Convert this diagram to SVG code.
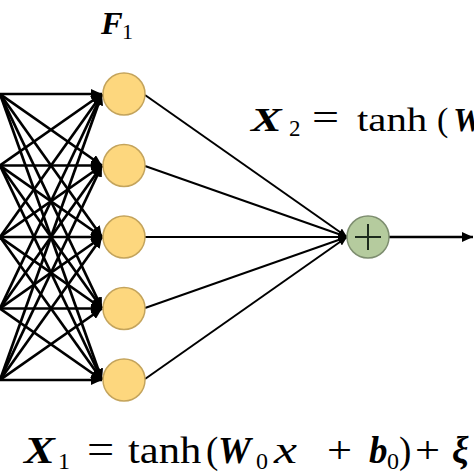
<svg xmlns="http://www.w3.org/2000/svg" width="474" height="474" viewBox="0 0 474 474">
<defs>
<marker id="ah" markerUnits="userSpaceOnUse" markerWidth="12" markerHeight="10" refX="11" refY="5" orient="auto"><path d="M0,0 L11,5 L0,10 z" fill="#000"/></marker>
<marker id="ahs" markerUnits="userSpaceOnUse" markerWidth="9" markerHeight="8" refX="9" refY="4" orient="auto"><path d="M0,0 L9,4 L0,8 z" fill="#000"/></marker>
<style>
.in{stroke:#000;stroke-width:2.7;fill:none;marker-end:url(#ah)}
.hid{stroke:#000;stroke-width:2;fill:none;marker-end:url(#ahs)}
.neuron{fill:#FDD77E;stroke:#C4A45C;stroke-width:1.5}
.sum{fill:#B5CB9E;stroke:#7E8E70;stroke-width:1.5}
.t{font-family:"Liberation Serif","DejaVu Serif",serif;fill:#000}
.bi{font-weight:bold;font-style:italic}
.it{font-style:italic}
</style>
</defs>
<rect width="474" height="474" fill="#fff"/>
<g id="connectors">
<path class="in" d="M0,94 L102,94"/><path class="in" d="M0,94 L102,165.5"/><path class="in" d="M0,94 L102,237"/><path class="in" d="M0,94 L102,308.5"/><path class="in" d="M0,94 L102,380"/>
<path class="in" d="M0,165.5 L102,94"/><path class="in" d="M0,165.5 L102,165.5"/><path class="in" d="M0,165.5 L102,237"/><path class="in" d="M0,165.5 L102,308.5"/><path class="in" d="M0,165.5 L102,380"/>
<path class="in" d="M0,237 L102,94"/><path class="in" d="M0,237 L102,165.5"/><path class="in" d="M0,237 L102,237"/><path class="in" d="M0,237 L102,308.5"/><path class="in" d="M0,237 L102,380"/>
<path class="in" d="M0,308.5 L102,94"/><path class="in" d="M0,308.5 L102,165.5"/><path class="in" d="M0,308.5 L102,237"/><path class="in" d="M0,308.5 L102,308.5"/><path class="in" d="M0,308.5 L102,380"/>
<path class="in" d="M0,380 L102,94"/><path class="in" d="M0,380 L102,165.5"/><path class="in" d="M0,380 L102,237"/><path class="in" d="M0,380 L102,308.5"/><path class="in" d="M0,380 L102,380"/>
<path class="hid" d="M145,95 L347,237"/>
<path class="hid" d="M145,166 L347,237"/>
<path class="hid" d="M145,237 L347,237"/>
<path class="hid" d="M145,308 L347,237"/>
<path class="hid" d="M145,379 L347,237"/>
<path class="in" d="M389,237 L473,237"/>
</g>
<g id="n1"><circle class="neuron" cx="124" cy="94" r="21"/></g>
<g id="n2"><circle class="neuron" cx="124" cy="165.5" r="21"/></g>
<g id="n3"><circle class="neuron" cx="124" cy="237" r="21"/></g>
<g id="n4"><circle class="neuron" cx="124" cy="308.5" r="21"/></g>
<g id="n5"><circle class="neuron" cx="124" cy="380" r="21"/></g>
<g id="sum"><circle class="sum" cx="368" cy="237" r="21"/><path d="M355,237 H381 M368,224 V250" stroke="#1c2a1c" stroke-width="2"/></g>
<g id="label-F1">
<text class="t bi" transform="translate(101,34) scale(1.05,1)" font-size="31">F</text>
<text class="t" x="122" y="39" font-size="22">1</text>
</g>
<g id="label-X2">
<text class="t bi" transform="translate(251,131) scale(1.35,1)" font-size="34">X</text>
<text class="t" x="289" y="136" font-size="23">2</text>
<text class="t" transform="translate(312,131) scale(1.2,1)" font-size="40">=</text>
<text class="t" transform="translate(357,131) scale(1.2,1)" font-size="34">tanh</text>
<text class="t" x="437" y="131" font-size="34">(</text>
<text class="t bi" x="453" y="131" font-size="34">W</text>
</g>
<g id="label-X1">
<text class="t bi" transform="translate(24,463) scale(1.25,1)" font-size="37">X</text>
<text class="t" x="58" y="469" font-size="24">1</text>
<text class="t" transform="translate(87,463) scale(1.15,1)" font-size="42">=</text>
<text class="t" transform="translate(128,463) scale(1.15,1)" font-size="37">tanh</text>
<text class="t" x="206" y="463" font-size="37">(</text>
<text class="t bi" x="218" y="463" font-size="37">W</text>
<text class="t" x="256" y="469" font-size="24">0</text>
<text class="t it" transform="translate(274,463) scale(1.4,1)" font-size="37">x</text>
<text class="t" transform="translate(327,463) scale(1.2,1)" font-size="37">+</text>
<text class="t bi" x="369" y="463" font-size="37">b</text>
<text class="t" x="387" y="469" font-size="24">0</text>
<text class="t" x="399" y="463" font-size="37">)</text>
<text class="t" transform="translate(415,463) scale(1.2,1)" font-size="37">+</text>
<text class="t bi" x="452" y="463" font-size="37">ξ</text>
</g>
</svg>
